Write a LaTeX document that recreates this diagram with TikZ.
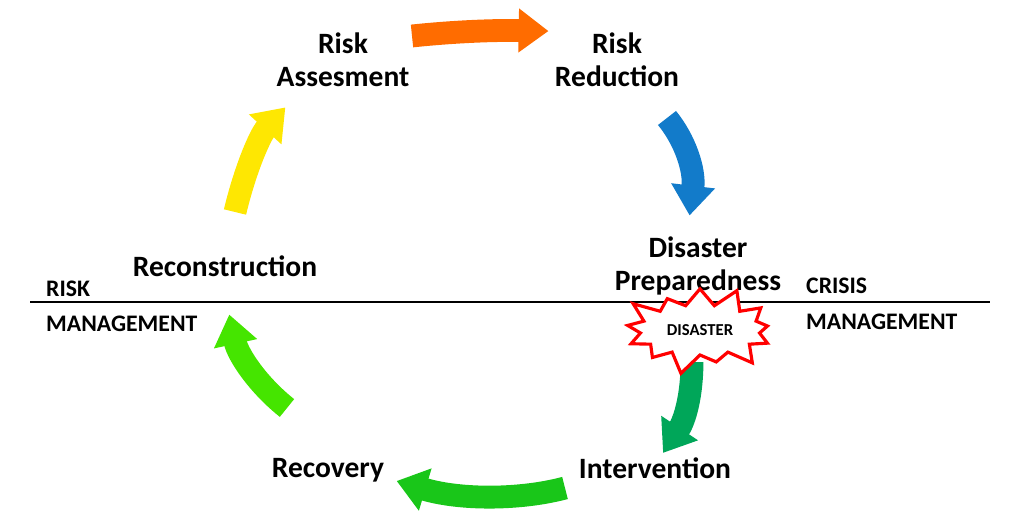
\documentclass[tikz,border=0pt]{standalone}
\usepackage{fontspec}
\setmainfont{Carlito}
\usetikzlibrary{arrows.meta,shapes.symbols}
\begin{document}
\begin{tikzpicture}[x=0.02cm,y=-0.02cm,
 lbl/.style={font=\bfseries\fontsize{16.8}{19}\selectfont,align=center},
 side/.style={font=\bfseries\fontsize{13.5}{15}\selectfont,anchor=west},
 barrow/.style={line width=13pt,draw=#1,-{Triangle[length=17pt,width=24pt]},shorten >=-2pt}]
\useasboundingbox (0,0) rectangle (1009,519);
\node[lbl] (ra) at (343,60) {Risk\\Assesment};
\node[lbl] (rr) at (617,60) {Risk\\Reduction};
\node[lbl] (dp) at (698,266) {Disaster\\Preparedness};
\node[lbl] (rc) at (225,266) {Reconstruction};
\node[lbl] (rv) at (328,470) {Recovery};
\node[lbl] (iv) at (655,468) {Intervention};
\node[side] (r1) at (40,289) {RISK};
\node[side] (r2) at (40,324) {MANAGEMENT};
\node[side] (c1) at (800,286) {CRISIS};
\node[side] (c2) at (800,322) {MANAGEMENT};
\coordinate (l1) at (30,302); \coordinate (l2) at (990,302);
\draw[line width=0.6pt] (l1) -- (l2);
\coordinate (a1) at (412,36); \coordinate (a2) at (545,31);
\draw[barrow={orange!85!red}] (a1) .. controls (450,32) and (490,30) .. (a2);
\coordinate (b1) at (667,118); \coordinate (b2) at (690,212);
\draw[barrow={cyan!60!blue}] (b1) .. controls (685,140) and (695,170) .. (b2);
\coordinate (c1a) at (692,362); \coordinate (c2a) at (665,450);
\draw[barrow={teal!70!green}] (c1a) .. controls (692,395) and (685,420) .. (c2a);
\coordinate (d1) at (565,488); \coordinate (d2) at (400,482);
\draw[barrow={green!75!black!90}] (d1) .. controls (520,500) and (460,500) .. (d2);
\coordinate (e1) at (287,408); \coordinate (e2) at (230,318);
\draw[barrow={green!70!yellow!90!black}] (e1) .. controls (258,385) and (238,355) .. (e2);
\coordinate (f1) at (235,212); \coordinate (f2) at (283,110);
\draw[barrow={yellow!90!orange}] (f1) .. controls (245,170) and (260,135) .. (f2);
\node[starburst,starburst points=13,starburst point height=0.45cm,draw=red,line width=1.8pt,fill=white,
 minimum width=3.3cm,minimum height=1.9cm,inner sep=0pt,font=\bfseries\fontsize{9.5}{10}\selectfont] (st) at (700,330) {DISASTER};
\end{tikzpicture}
\end{document}
